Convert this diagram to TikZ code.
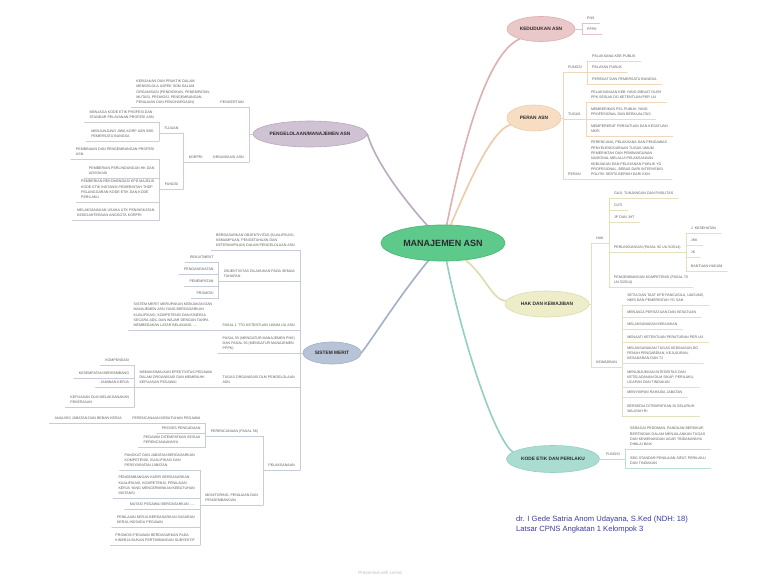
\documentclass[tikz,border=0pt]{standalone}
\usepackage{fontspec}
\setmainfont{Liberation Sans}
\usetikzlibrary{shapes.geometric,backgrounds,calc}
\definecolor{leaftxt}{HTML}{5E5E5E}
\definecolor{titletxt}{HTML}{2B2B2B}
\definecolor{cgreen}{HTML}{5DC98B}
\definecolor{cgreenD}{HTML}{4BB878}
\definecolor{cpink}{HTML}{EAC7C8}
\definecolor{cpinkD}{HTML}{DDB0B2}
\definecolor{cpeach}{HTML}{F7DEC3}
\definecolor{cpeachD}{HTML}{EDCBA8}
\definecolor{colive}{HTML}{EDEDC9}
\definecolor{coliveD}{HTML}{DEDCAE}
\definecolor{cteal}{HTML}{ABDCD2}
\definecolor{ctealD}{HTML}{93CFC3}
\definecolor{cpurple}{HTML}{CFC2D2}
\definecolor{cpurpleD}{HTML}{BBAABF}
\definecolor{cblue}{HTML}{B7C3D6}
\definecolor{cblueD}{HTML}{A2B0C7}
\definecolor{lpink}{HTML}{E6C2C4}
\definecolor{lpeach}{HTML}{F0D6BA}
\definecolor{lolive}{HTML}{E2E1BC}
\definecolor{lteal}{HTML}{B9DFD7}
\definecolor{lpurple}{HTML}{D3CCD6}
\definecolor{lblue}{HTML}{C7CDD8}
\definecolor{sigblue}{HTML}{3C3C9C}
\tikzset{
  lf/.style={font=\fontsize{3.6}{5.3}\selectfont, text=leaftxt, align=left,
    inner xsep=5pt, inner ysep=2pt, text depth=1pt},
  R/.style={lf, anchor=south west},
  L/.style={lf, anchor=south east},
  branch/.style={ellipse, inner sep=0pt, line width=0.6pt,
    font=\fontsize{4.8}{5.5}\selectfont\bfseries, text=titletxt},
  ul/.style={line width=0.5pt, line cap=round},
  trunk/.style={line width=1.6pt, line cap=round},
}
\newcommand{\lfR}[4]{\node[R] (#2) at (#3) {#4};\draw[ul,#1] (#2.south west) -- (#2.south east);}
\newcommand{\lfL}[4]{\node[L] (#2) at (#3) {#4};\draw[ul,#1] (#2.south west) -- (#2.south east);}
\begin{document}
\begin{tikzpicture}[x=1pt,y=-1pt]
\useasboundingbox (0,0) rectangle (768,580);

% ---------- root ----------
\node[ellipse, fill=cgreen, draw=cgreenD, line width=0.7pt, minimum width=124pt, minimum height=36pt,
  inner sep=0pt, font=\fontsize{9}{10}\selectfont\bfseries, text=titletxt] (root) at (443,243) {MANAJEMEN ASN};

% ---------- KEDUDUKAN ----------
\node[branch, fill=cpink, draw=cpinkD, minimum width=68pt, minimum height=25pt] (ked) at (541,29) {KEDUDUKAN ASN};
\lfR{lpink}{pns}{582,23}{PNS}
\lfR{lpink}{pppk}{582,34}{PPPK}
\draw[ul,lpink] (ked.east) -- (ked.east -| pns.south west);
\draw[ul,lpink] (pns.south west) -- (pppk.south west);

% ---------- PERAN ----------
\node[branch, fill=cpeach, draw=cpeachD, minimum width=54pt, minimum height=26pt] (peran) at (534,118) {PERAN ASN};
\lfR{lpeach}{pf}{563,72}{FUNGSI}
\lfR{lpeach}{pt}{563,119}{TUGAS}
\lfR{lpeach}{pp}{563,179}{PERAN}
\draw[ul,lpeach] (peran.east) -- (peran.east -| pf.south west);
\draw[ul,lpeach] (pf.south west) -- (pp.south west);
\lfR{lpeach}{pf1}{$(pf.south east)+(0,-11)$}{PELAKSANA KEB PUBLIK}
\lfR{lpeach}{pf2}{$(pf.south east)+(0,0)$}{PELAYAN PUBLIK}
\lfR{lpeach}{pf3}{$(pf.south east)+(0,12)$}{PEREKAT DAN PEMERSATU BANGSA}
\draw[ul,lpeach] (pf1.south west) -- (pf3.south west);
\lfR{lpeach}{pt1}{$(pt.south east)+(0,-17)$}{PELAKSANAAN KEB YANG DIBUAT OLEH\\PPK SESUAI DG KETENTUAN PER UU}
\lfR{lpeach}{pt2}{$(pt.south east)+(0,0)$}{MEMBERIKAN PEL PUBLIK YANG\\PROFESIONAL DAN BERKUALITAS}
\lfR{lpeach}{pt3}{$(pt.south east)+(0,17)$}{MEMPERERAT PERSATUAN DAN KESATUAN\\NKRI}
\draw[ul,lpeach] (pt1.south west) -- (pt3.south west);
\lfR{lpeach}{pp1}{$(pp.south east)$}{PERENCANA, PELAKSANA DAN PENGAWAS\\PENYELENGGARAAN TUGAS UMUM\\PEMERINTAH DAN PEMBANGUNAN\\NASIONAL MELALUI PELAKSANAAN\\KEBIJAKAN DAN PELAYANAN PUBLIK YG\\PROFESIONAL, BEBAS DARI INTERVENSI\\POLITIK SERTA BERSIH DARI KKN}

% ---------- HAK DAN KEWAJIBAN ----------
\node[branch, fill=colive, draw=coliveD, minimum width=84pt, minimum height=26pt] (hak) at (547,304) {HAK DAN KEWAJIBAN};
\lfR{lolive}{hh}{591,243}{HAK}
\lfR{lolive}{hk}{591,367}{KEWAJIBAN}
\draw[ul,lolive] (hak.east) -- (hak.east -| hh.south west);
\draw[ul,lolive] (hh.south west) -- (hk.south west);
\lfR{lolive}{hh1}{$(hh.south east)+(0,-45)$}{GAJI, TUNJANGAN DAN FASILITAS}
\lfR{lolive}{hh2}{$(hh.south east)+(0,-33)$}{CUTI}
\lfR{lolive}{hh3}{$(hh.south east)+(0,-21)$}{JP DAN JHT}
\lfR{lolive}{hh4}{$(hh.south east)+(0,9)$}{PERLINDUNGAN (PASAL 92 UU 5/2014)}
\lfR{lolive}{hh5}{$(hh.south east)+(0,44)$}{PENGEMBANGAN KOMPETENSI (PASAL 70\\UU 5/2014)}
\draw[ul,lolive] (hh1.south west) -- (hh5.south west);
\lfR{lolive}{hp1}{$(hh4.south east)+(0,-19)$}{J. KESEHATAN}
\lfR{lolive}{hp2}{$(hh4.south east)+(0,-7)$}{JKK}
\lfR{lolive}{hp3}{$(hh4.south east)+(0,5)$}{JK}
\lfR{lolive}{hp4}{$(hh4.south east)+(0,19)$}{BANTUAN HUKUM}
\draw[ul,lolive] (hp1.south west) -- (hp4.south west);
\lfR{lolive}{hk1}{$(hk.south east)+(0,-62)$}{SETIA DAN TAAT KPD PANCASILA, UUD1945,\\NKRI DAN PEMERINTAH YG SAH}
\lfR{lolive}{hk2}{$(hk.south east)+(0,-50)$}{MENJAGA PERSATUAN DAN KESATUAN}
\lfR{lolive}{hk3}{$(hk.south east)+(0,-38)$}{MELAKSANAKAN KEBIJAKAN}
\lfR{lolive}{hk4}{$(hk.south east)+(0,-25)$}{MENAATI KETENTUAN PERATURAN PER UU}
\lfR{lolive}{hk5}{$(hk.south east)+(0,-4)$}{MELAKSANAKAN TUGAS KEDINASAN DG\\PENUH PENGABDIAN, KEJUJURAN,\\KESADARAN DAN TJ}
\lfR{lolive}{hk6}{$(hk.south east)+(0,20)$}{MENUNJUKKAN INTEGRITAS DAN\\KETELADANAN DLM SIKAP, PERILAKU,\\UCAPAN DAN TINDAKAN}
\lfR{lolive}{hk7}{$(hk.south east)+(0,30)$}{MENYIMPAN RAHASIA JABATAN}
\lfR{lolive}{hk8}{$(hk.south east)+(0,49)$}{BERSEDIA DITEMPATKAN DI SELURUH\\WILAYAH RI}
\draw[ul,lolive] (hk1.south west) -- (hk8.south west);

% ---------- KODE ETIK ----------
\node[branch, fill=cteal, draw=ctealD, minimum width=93pt, minimum height=27pt] (kode) at (553,459) {KODE ETIK DAN PERILAKU};
\lfR{lteal}{kf}{601,459}{FUNGSI}
\draw[ul,lteal] (kode.east) -- (kf.south west);
\lfR{lteal}{kf1}{$(kf.south east)+(0,-10)$}{SEBAGAI PEDOMAN, PANDUAN BERSIKAP,\\BERTINDAK DALAM MENJALANKAN TUGAS\\DAN KEWENANGAN AGAR TINDAKANNYA\\DINILAI BAIK}
\lfR{lteal}{kf2}{$(kf.south east)+(0,9)$}{SBG STANDAR PENILAIAN SIFAT, PERILAKU\\DAN TINDAKAN}
\draw[ul,lteal] (kf1.south west) -- (kf2.south west);

% ---------- PENGELOLAAN ----------
\node[branch, fill=cpurple, draw=cpurpleD, minimum width=114pt, minimum height=26pt] (peng) at (310,134) {PENGELOLAAN/MANAJEMEN ASN};
\lfL{lpurple}{gp}{249,107}{PENGERTIAN}
\lfL{lpurple}{go}{249,162}{ORGANISASI ASN}
\draw[ul,lpurple] (peng.west) -- (peng.west -| gp.south east);
\draw[ul,lpurple] (gp.south east) -- (go.south east);
\lfL{lpurple}{gp1}{$(gp.south west)$}{KEBIJAKAN DAN PRAKTIK DALAM\\MENGELOLA ASPEK SDM DALAM\\ORGANISASI (PENDIDIKAN, PENEMPATAN,\\MUTASI, PROMOSI, PENGEMBANGAN,\\PENILAIAN DAN PENGHARGAAN)}
\lfL{lpurple}{gk}{$(go.south west)$}{KORPRI}
\lfL{lpurple}{gt}{$(gk.south west)+(0,-29)$}{TUJUAN}
\lfL{lpurple}{gf}{$(gk.south west)+(0,27)$}{FUNGSI}
\draw[ul,lpurple] (gt.south east) -- (gf.south east);
\lfL{lpurple}{gt1}{$(gt.south west)+(0,-11)$}{MENJAGA KODE ETIK PROFESI DAN\\STANDAR PELAYANAN PROFESI ASN}
\lfL{lpurple}{gt2}{$(gt.south west)+(0,8)$}{MENJUNJUNG JIWA KORP ASN SBG\\PEMERSATU BANGSA}
\draw[ul,lpurple] (gt1.south east) -- (gt2.south east);
\lfL{lpurple}{gf1}{$(gf.south west)+(0,-30)$}{PEMBINAAN DAN PENGEMBANGAN PROFESI\\ASN}
\lfL{lpurple}{gf2}{$(gf.south west)+(0,-11)$}{PEMBERIAN PERLINDUNGAN HK DAN\\ADVOKASI}
\lfL{lpurple}{gf3}{$(gf.south west)+(0,13)$}{PEMBERIAN REKOMENDASI KPD MAJELIS\\KODE ETIK INSTANSI PEMERINTAH THDP\\PELANGGARAN KODE ETIK DAN KODE\\PERILAKU}
\lfL{lpurple}{gf4}{$(gf.south west)+(0,31)$}{MELAKSANAKAN USAHA UTK PENINGKATAN\\KESEJAHTERAAN ANGGOTA KORPRI}
\draw[ul,lpurple] (gf1.south east) -- (gf4.south east);

% ---------- SISTEM MERIT ----------
\node[branch, fill=cblue, draw=cblueD, minimum width=58pt, minimum height=22pt] (sm) at (332,353) {SISTEM MERIT};
\lfL{lblue}{sa}{300,250}{BERDASARKAN OBJEKTIVITAS (KUALIFIKASI,\\KEMAMPUAN, PENGETAHUAN DAN\\KETERAMPILAN) DALAM PENGELOLAAN ASN}
\lfL{lblue}{sb}{300,281}{OBJEKTIVITAS DILAKUKAN PADA SEMUA\\TAHAPAN}
\lfL{lblue}{sc}{300,330}{PASAL 1 TTG KETENTUAN UMUM UU ASN}
\lfL{lblue}{sd}{300,353}{PASAL 55 (MENGATUR MANAJEMEN PNS)\\DAN PASAL 93 (MENGATUR MANAJEMEN\\PPPK)}
\lfL{lblue}{se}{300,387}{TUGAS ORGANISASI DLM PENGELOLAAN\\ASN}
\lfL{lblue}{sf}{300,470}{PELAKSANAAN}
\draw[ul,lblue] (sm.west) -- (sm.west -| sd.south east);
\draw[ul,lblue] (sa.south east) -- (sf.south east);
\lfL{lblue}{sb1}{$(sb.south west)+(0,-19)$}{REKUITMENT}
\lfL{lblue}{sb2}{$(sb.south west)+(0,-7)$}{PENGANGKATAN}
\lfL{lblue}{sb3}{$(sb.south west)+(0,5)$}{PENEMPATAN}
\lfL{lblue}{sb4}{$(sb.south west)+(0,17)$}{PROMOSI}
\draw[ul,lblue] (sb1.south east) -- (sb4.south east);
\lfL{lblue}{sc1}{$(sc.south west)$}{SISTEM MERIT MERUPAKAN KEBIJAKAN DAN\\MANAJEMEN ASN YANG BERDASARKAN\\KUALIFIKASI, KOMPETENSI DAN KINERJA\\SECARA ADIL DAN WAJAR DENGAN TANPA\\MEMBEDAKAN LATAR BELAKANG ....}
\lfL{lblue}{se1}{$(se.south west)$}{MEMAKSIMALKAN EFEKTIVITAS PEGAWAI\\DALAM ORGANISASI DAN MEMENUHI\\KEPUASAN PEGAWAI}
\lfL{lblue}{se11}{$(se1.south west)+(0,-22)$}{KOMPENSASI}
\lfL{lblue}{se12}{$(se1.south west)+(0,-9)$}{KESEMPATAN BERKEMBANG}
\lfL{lblue}{se13}{$(se1.south west)+(0,0)$}{JAMINAN KERJA}
\lfL{lblue}{se14}{$(se1.south west)+(0,20)$}{KEPUASAN DLM MELAKSANAKAN\\PEKERJAAN}
\draw[ul,lblue] (se11.south east) -- (se14.south east);
\lfL{lblue}{sf1}{$(sf.south west)+(0,-34)$}{PERENCANAAN (PASAL 56)}
\lfL{lblue}{sf2}{$(sf.south west)+(0,35)$}{MONITORING, PENILAIAN DAN\\PENGEMBANGAN}
\draw[ul,lblue] (sf1.south east) -- (sf2.south east);
\lfL{lblue}{sf11}{$(sf1.south west)+(0,-13)$}{PERENCANAAN KEBUTUHAN PEGAWAI}
\lfL{lblue}{sf12}{$(sf1.south west)+(0,-3)$}{PROSES PENGADAAN}
\lfL{lblue}{sf13}{$(sf1.south west)+(0,11)$}{PEGAWAI DITEMPATKAN SESUAI\\PERENCANAANNYA}
\draw[ul,lblue] (sf11.south east) -- (sf13.south east);
\lfL{lblue}{sf111}{$(sf11.south west)$}{ANALISIS JABATAN DAN BEBAN KERJA}
\lfL{lblue}{sf21}{$(sf2.south west)+(0,-35)$}{PANGKAT DAN JABATAN BERDASARKAN\\KOMPETENSI, KUALIFIKASI DAN\\PERSYARATAN JABATAN}
\lfL{lblue}{sf22}{$(sf2.south west)+(0,-7)$}{PENGEMBANGAN KARIR BERDASARKAN\\KUALIFIKASI, KOMPETENSI, PENILAIAN\\KERJA YANG MENCERMINKAN KEBUTUHAN\\INSTANSI}
\lfL{lblue}{sf23}{$(sf2.south west)+(0,4)$}{MUTASI PEGAWAI BERDASARKAN .....}
\lfL{lblue}{sf24}{$(sf2.south west)+(0,22)$}{PENILAIAN KERJA BERDASARKAN SASARAN\\KERJA INDIVIDU PEGAWAI}
\lfL{lblue}{sf25}{$(sf2.south west)+(0,40)$}{PROMOSI PEGAWAI BERDASARKAN PADA\\KINERJA BUKAN PERTIMBANGAN SUBYEKTIF}
\draw[ul,lblue] (sf21.south east) -- (sf25.south east);

% ---------- signature & footer ----------
\node[anchor=west, inner sep=0pt, font=\fontsize{7.6}{9}\selectfont, text=sigblue] (sig1) at (516,519.5) {dr. I Gede Satria Anom Udayana, S.Ked (NDH: 18)};
\node[anchor=west, inner sep=0pt, font=\fontsize{7.6}{9}\selectfont, text=sigblue] (sig2) at (516,530) {Latsar CPNS Angkatan 1 Kelompok 3};
\node[inner sep=0pt, font=\fontsize{4.5}{5}\selectfont, text=black!25] (xm) at (380,573) {Presented with xmind};

% ---------- trunk connectors ----------
\begin{scope}[on background layer]
\fill[white] (0,0) rectangle (768,580);
\draw[trunk, cpinkD] (root) .. controls (462,150) and (485,55) .. (ked);
\draw[trunk, cpeachD] (root) .. controls (470,180) and (492,130) .. (peran);
\draw[trunk, coliveD] (root) .. controls (485,275) and (492,300) .. (hak);
\draw[trunk, ctealD] (root) .. controls (462,340) and (495,440) .. (kode.170);
\draw[trunk, cpurpleD] (root) .. controls (400,195) and (375,160) .. (peng.east);
\draw[trunk, cblueD] (root) .. controls (400,295) and (375,335) .. (sm.east);
\end{scope}
\end{tikzpicture}
\end{document}
